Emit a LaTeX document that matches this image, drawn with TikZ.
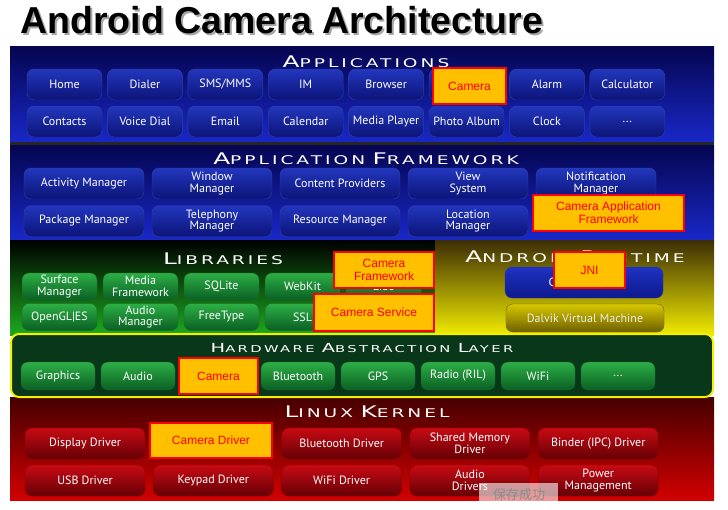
\documentclass[tikz,border=0pt]{standalone}
\usepackage{fontspec}
\setmainfont{Liberation Sans}
\newfontfamily\btnfont{PT Sans}
\newfontfamily\headfont[LetterSpace=25,FakeStretch=1.55]{DejaVu Sans}
\newfontfamily\cjkfont{Noto Sans CJK SC}
\definecolor{appnavy}{RGB}{5,5,80}
\definecolor{appblue}{RGB}{25,40,200}
\definecolor{bluetop}{RGB}{35,55,190}
\definecolor{bluebot}{RGB}{12,20,120}
\definecolor{blueedge}{RGB}{45,65,160}
\definecolor{libgreen}{RGB}{30,170,30}
\definecolor{greentop}{RGB}{45,175,70}
\definecolor{greenbot}{RGB}{10,95,35}
\definecolor{greenedge}{RGB}{20,110,40}
\definecolor{rtbrown}{RGB}{60,45,5}
\definecolor{rtyellow}{RGB}{240,235,0}
\definecolor{coretop}{RGB}{30,50,195}
\definecolor{corebot}{RGB}{15,25,140}
\definecolor{dvmtop}{RGB}{215,200,0}
\definecolor{dvmbot}{RGB}{110,95,0}
\definecolor{haldark}{RGB}{8,55,25}
\definecolor{halyellow}{RGB}{245,240,0}
\definecolor{krndark}{RGB}{70,0,0}
\definecolor{krnred}{RGB}{210,0,0}
\definecolor{redtop}{RGB}{200,10,20}
\definecolor{redbot}{RGB}{100,0,5}
\definecolor{rededge}{RGB}{140,0,0}
\definecolor{hlorange}{RGB}{255,192,0}
\newcommand{\capword}[2]{{\fontsize{16}{16}\selectfont #1}{\fontsize{12}{12}\selectfont #2}}
\newcommand{\capwordsm}[2]{{\fontsize{12.5}{12}\selectfont #1}{\fontsize{9.5}{9}\selectfont #2}}
\tikzstyle{button} = [rectangle, rounded corners=7pt, text centered, align=center, text=white, font=\btnfont\fontsize{12}{11.5}\selectfont, minimum height=31pt, inner sep=1pt]
\tikzstyle{appbtn} = [button, minimum width=75pt, top color=bluetop, bottom color=bluebot, draw=blueedge, node distance=80.4pt]
\tikzstyle{fwbtn} = [button, minimum width=120pt, top color=bluetop, bottom color=bluebot, draw=blueedge, node distance=128pt]
\tikzstyle{libbtn} = [button, minimum width=75pt, minimum height=27pt, top color=greentop, bottom color=greenbot, draw=greenedge, node distance=81pt]
\tikzstyle{halbtn} = [button, minimum width=74pt, minimum height=28pt, top color=greentop, bottom color=greenbot, draw=greenedge, node distance=80pt]
\tikzstyle{krnbtn} = [button, minimum width=120pt, top color=redtop, bottom color=redbot, draw=rededge, node distance=128.3pt]
\tikzstyle{layerhead} = [anchor=base, text=white, font=\headfont, inner sep=0pt]
\tikzstyle{camhl} = [rectangle, draw=red, line width=1.5pt, fill=hlorange, text=red, align=center, font=\fontsize{12}{13}\selectfont, inner sep=0pt]

\begin{document}
\begin{tikzpicture}[x=1pt, y=-1pt]
\useasboundingbox (0,0) rectangle (728,509);

% title
\node (titleshadow) [anchor=base west, inner sep=0pt, text=black!35, font=\bfseries\fontsize{37.5}{37.5}\selectfont] at (22,35) {Android Camera Architecture};
\node (title) [anchor=base west, inner sep=0pt, text=black, font=\bfseries\fontsize{37.5}{37.5}\selectfont] at (20,33) {Android Camera Architecture};

% layers
\draw [black!30, line width=1pt] (10,46) -- (714,46);
\shade [top color=appnavy, bottom color=appblue] (10,46.5) rectangle (714,142);
\fill [black!85] (10,142) rectangle (714,145);
\shade [top color=appnavy, bottom color=appblue] (10,145) rectangle (714,240);
\shade [top color=black, bottom color=libgreen] (10,240) rectangle (435,335);
\shade [top color=rtbrown, bottom color=rtyellow] (435,240) rectangle (714,335);
\shade [top color=krndark, bottom color=krnred] (10,397) rectangle (714,500);
\draw [halyellow, line width=2pt, fill=haldark, rounded corners=8pt] (11,334) rectangle (713,397);

\node (apphead) [layerhead] at (366,67) {\capword{A}{PPLICATIONS}};
\node (fwhead) [layerhead] at (366,164) {\capword{A}{PPLICATION}\ \capword{F}{RAMEWORK}};
\node (libhead) [layerhead] at (223,264) {\capword{L}{IBRARIES}};
\node (rthead) [layerhead] at (575,262) {\capword{A}{NDROID}\ \capword{R}{UNTIME}};
\node (halhead) [layerhead] at (362,352) {\capwordsm{H}{ARDWARE}\ \capwordsm{A}{BSTRACTION}\ \capwordsm{L}{AYER}};
\node (krnhead) [layerhead] at (367,417) {\capword{L}{INUX}\ \capword{K}{ERNEL}};

% applications
\node (home) [appbtn] at (64.5,84.5) {Home};
\node (dialer) [appbtn, right of=home] {Dialer};
\node (sms) [appbtn, right of=dialer] {SMS/MMS};
\node (im) [appbtn, right of=sms] {IM};
\node (browser) [appbtn, right of=im] {Browser};
\node (camapp) [appbtn, right of=browser] {};
\node (alarm) [appbtn, right of=camapp] {Alarm};
\node (calc) [appbtn, right of=alarm] {Calculator};
\node (contacts) [appbtn] at (64.5,121.5) {Contacts};
\node (voice) [appbtn, right of=contacts] {Voice Dial};
\node (email) [appbtn, right of=voice] {Email};
\node (calendar) [appbtn, right of=email] {Calendar};
\node (media) [appbtn, right of=calendar] {Media Player};
\node (photo) [appbtn, right of=media] {Photo Album};
\node (clock) [appbtn, right of=photo] {Clock};
\node (appmore) [appbtn, right of=clock] {...};

% application framework
\node (activity) [fwbtn] at (84,183.5) {Activity Manager};
\node (window) [fwbtn, right of=activity] {Window\\Manager};
\node (content) [fwbtn, right of=window] {Content Providers};
\node (view) [fwbtn, right of=content] {View\\System};
\node (notify) [fwbtn, right of=view] {Notification\\Manager};
\node (package) [fwbtn] at (84,221) {Package Manager};
\node (telephony) [fwbtn, right of=package] {Telephony\\Manager};
\node (resource) [fwbtn, right of=telephony] {Resource Manager};
\node (location) [fwbtn, right of=resource] {Location\\Manager};

% libraries
\node (surface) [libbtn] at (59.5,286.5) {Surface\\Manager};
\node (mediafw) [libbtn, right of=surface] {Media\\Framework};
\node (sqlite) [libbtn, right of=mediafw] {SQLite};
\node (webkit) [libbtn, right of=sqlite] {WebKit};
\node (libc) [libbtn, right of=webkit] {Libc};
\node (opengl) [libbtn] at (59.5,317) {OpenGL|ES};
\node (audiomgr) [libbtn, right of=opengl] {Audio\\Manager};
\node (freetype) [libbtn, right of=audiomgr] {FreeType};
\node (ssl) [libbtn, right of=freetype] {SSL};

% android runtime
\node (core) [button, minimum width=158pt, top color=coretop, bottom color=corebot, draw=blueedge] at (584,282.5) {Core Libraries};
\node (dalvik) [button, minimum width=158pt, minimum height=28pt, top color=dvmtop, bottom color=dvmbot, draw=dvmbot, text=white!92!black] at (585,318) {Dalvik Virtual Machine};

% hardware abstraction layer
\node (graphics) [halbtn] at (58,376) {Graphics};
\node (audio) [halbtn, right of=graphics] {Audio};
\node (camhal) [halbtn, right of=audio] {};
\node (bluetooth) [halbtn, right of=camhal] {Bluetooth};
\node (gps) [halbtn, right of=bluetooth] {GPS};
\node (radio) [halbtn, right of=gps] {Radio (RIL)};
\node (wifi) [halbtn, right of=radio] {WiFi};
\node (halmore) [halbtn, right of=wifi] {...};

% linux kernel
\node (display) [krnbtn] at (85,443.5) {Display Driver};
\node (camdrv) [krnbtn, right of=display] {};
\node (btdrv) [krnbtn, right of=camdrv] {Bluetooth Driver};
\node (shmem) [krnbtn, right of=btdrv] {Shared Memory\\Driver};
\node (binder) [krnbtn, right of=shmem] {Binder (IPC) Driver};
\node (usb) [krnbtn] at (85,480.5) {USB Driver};
\node (keypad) [krnbtn, right of=usb] {Keypad Driver};
\node (wifidrv) [krnbtn, right of=keypad] {WiFi Driver};
\node (audiodrv) [krnbtn, right of=wifidrv] {Audio\\Drivers};
\node (power) [krnbtn, right of=audiodrv] {Power\\Management};

% camera path
\node (hlapp) [camhl, minimum width=73pt, minimum height=36pt] at (469.5,86) {Camera};
\node (hlcaf) [camhl, minimum width=151pt, minimum height=36pt] at (608.5,213) {Camera Application\\Framework};
\node (hlcf) [camhl, minimum width=100pt, minimum height=36pt] at (384,270) {Camera\\Framework};
\node (hlcs) [camhl, minimum width=120pt, minimum height=37pt] at (374,312.5) {Camera Service};
\node (hljni) [camhl, minimum width=71pt, minimum height=36pt] at (589.5,270) {JNI};
\node (hlhal) [camhl, minimum width=79pt, minimum height=36pt] at (218.5,376) {Camera};
\node (hldrv) [camhl, minimum width=122pt, minimum height=35pt] at (211,440.5) {Camera Driver};

% toast
\fill [white, opacity=0.6] (479,483) rectangle (558,509);
\node (toast) [text=black!45, font=\cjkfont\fontsize{13}{13}\selectfont] at (519,495) {保存成功};

\end{tikzpicture}
\end{document}
